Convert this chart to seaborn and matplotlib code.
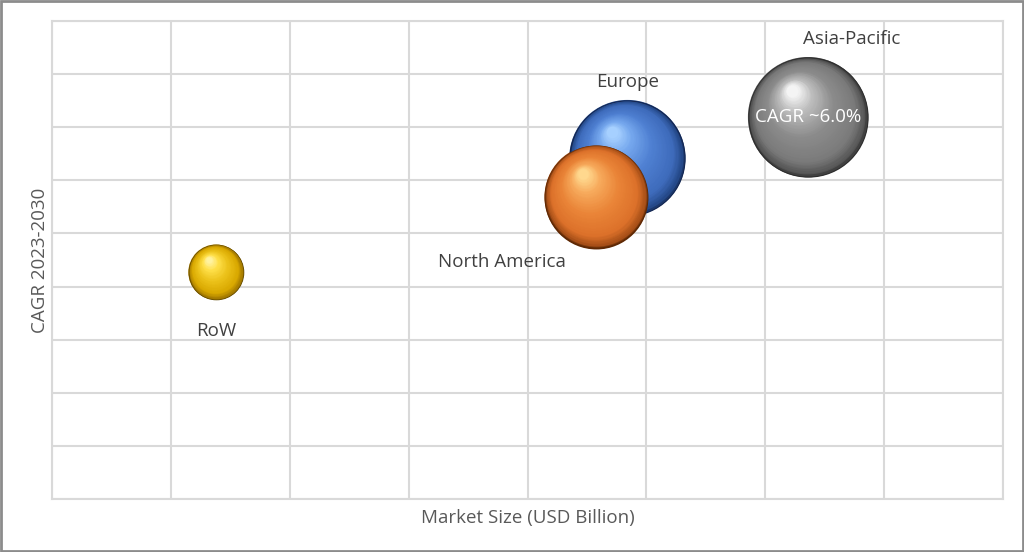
import numpy as np
import pandas as pd
import seaborn as sns
import matplotlib
matplotlib.use("Agg")
import matplotlib.pyplot as plt
from matplotlib.colors import LinearSegmentedColormap
from matplotlib.transforms import offset_copy
from matplotlib.patches import Rectangle

# ---- data (axes have no tick labels) ----
regions = ["RoW", "Europe", "North America", "Asia-Pacific"]
market_size = [1.38, 4.84, 4.58, 6.36]      # x position (grid units)
cagr = [4.27, 6.42, 5.69, 7.19]             # y position (grid units)
bubble_size = [1.6, 7.0, 5.6, 7.5]          # relative bubble area
x_ticks = list(range(0, 9))
y_ticks = list(range(0, 10))
x_label = "Market Size (USD Billion)"
y_label = "CAGR 2023-2030"
bubble_note = {"Asia-Pacific": "CAGR ~6.0%"}

df = pd.DataFrame({"region": regions, "x": market_size, "y": cagr, "size": bubble_size})

ramps = {
    "RoW": ["#5e4600", "#a67c00", "#d9a800", "#ecc21a", "#ffe04a", "#fff3a0"],
    "Europe": ["#142650", "#254a8a", "#3e6bbb", "#4f80d2", "#76a8ee", "#a6d0ff"],
    "North America": ["#5e2804", "#a85018", "#dc712a", "#ea8538", "#f7aa5c", "#ffd88e"],
    "Asia-Pacific": ["#2e2e2e", "#555555", "#7a7a7a", "#8c8c8c", "#bdbdbd", "#f4f4f4"],
}
stops = [0.0, 0.04, 0.18, 0.5, 0.8, 1.0]
label_offsets = {  # offset in pixels from bubble centre
    "RoW": (0, -59),
    "Europe": (0, 76),
    "North America": (-95, -65),
    "Asia-Pacific": (44, 78),
}

sns.set_theme(style="white")
plt.rcParams["font.family"] = ["Open Sans", "DejaVu Sans"]
FS = 13.5

fig = plt.figure(figsize=(10.24, 5.52), dpi=100)
ax = fig.add_axes([52 / 1024, 1 - 499 / 552, (1003 - 52) / 1024, (499 - 21) / 552])

palette = {r: ramps[r][1] for r in regions}
sns.scatterplot(data=df, x="x", y="y", hue="region", palette=palette,
                size="size", sizes=(0, 7500), size_norm=(0, 7.5),
                legend=False, linewidth=0, ax=ax, zorder=2)
base_sizes = ax.collections[0].get_sizes()

N = 50
for i, row in df.iterrows():
    s = base_sizes[i]
    r_pt = np.sqrt(s) / 2
    hx, hy = -0.26 * r_pt, 0.44 * r_pt
    cmap = LinearSegmentedColormap.from_list(row.region, list(zip(stops, ramps[row.region])))
    for k in range(N):
        t = k / (N - 1)
        f = 1 - 0.9 * t
        tr = offset_copy(ax.transData, fig=fig, x=hx * t, y=hy * t, units="points")
        ax.scatter([row.x], [row.y], s=s * f ** 2, color=cmap(t), linewidths=0,
                   transform=tr, zorder=3 + i)
    dx, dy = label_offsets[row.region]
    ax.annotate(row.region, (row.x, row.y), xytext=(dx, dy), textcoords="offset pixels",
                ha="center", va="center", fontsize=FS, color="#404040", zorder=20)
    if row.region in bubble_note:
        ax.annotate(bubble_note[row.region], (row.x, row.y), xytext=(0, 0),
                    textcoords="offset pixels", ha="center", va="center",
                    fontsize=FS, color="white", zorder=20)

ax.set_xlim(x_ticks[0], x_ticks[-1])
ax.set_ylim(y_ticks[0], y_ticks[-1])
ax.set_xticks(x_ticks)
ax.set_yticks(y_ticks)
ax.set_xticklabels([])
ax.set_yticklabels([])
ax.tick_params(length=0)
ax.grid(True, color="#d9d9d9", linewidth=1.5)
ax.set_axisbelow(True)
for sp in ax.spines.values():
    sp.set_color("#d9d9d9")
    sp.set_linewidth(1.5)
ax.set_xlabel(x_label, fontsize=FS, color="#595959", labelpad=4)
ax.set_ylabel(y_label, fontsize=FS, color="#595959", labelpad=-1)

fig.patches.append(Rectangle((0.001, 0.002), 0.998, 0.996, transform=fig.transFigure,
                             fill=False, edgecolor="#8c8c8c", linewidth=2))

fig.savefig("out.png", dpi=100)
